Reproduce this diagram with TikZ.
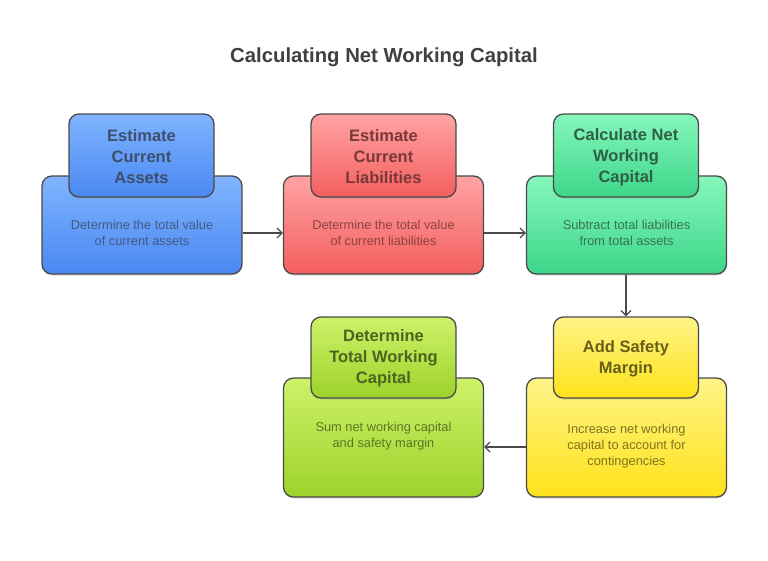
\documentclass[tikz,border=0pt]{standalone}
\usepackage{fontspec}
\setmainfont{Liberation Sans}
\usetikzlibrary{arrows.meta,shadows}
\definecolor{edge}{HTML}{4A4A4A}
\definecolor{ttl}{HTML}{404040}
\definecolor{bT}{HTML}{80B4FF}\definecolor{bB}{HTML}{4A88F2}\definecolor{bX}{HTML}{3E4F6C}
\definecolor{rT}{HTML}{FFA3A3}\definecolor{rB}{HTML}{F45E5E}\definecolor{rX}{HTML}{7A3838}
\definecolor{gT}{HTML}{86F7BC}\definecolor{gB}{HTML}{3DD68A}\definecolor{gX}{HTML}{2E5F45}
\definecolor{lT}{HTML}{CDF26A}\definecolor{lB}{HTML}{9DD22A}\definecolor{lX}{HTML}{4B6420}
\definecolor{yT}{HTML}{FFF488}\definecolor{yB}{HTML}{FFE21A}\definecolor{yX}{HTML}{66601A}
\tikzset{
  boxbase/.style={draw=edge, line width=1.3pt, rounded corners=10pt, inner sep=0pt,
    drop shadow={shadow xshift=0pt, shadow yshift=-1.5pt, opacity=0.25}},
  bigbox/.style={boxbase, minimum width=200pt, minimum height=98pt},
  bigboxtall/.style={boxbase, minimum width=200pt, minimum height=119pt},
  smallbox/.style={boxbase, minimum width=145pt, minimum height=83pt},
  smallboxlow/.style={boxbase, minimum width=145pt, minimum height=81pt},
  blue/.style={top color=bT, bottom color=bB},
  red/.style={top color=rT, bottom color=rB},
  green/.style={top color=gT, bottom color=gB},
  lime/.style={top color=lT, bottom color=lB},
  yellow/.style={top color=yT, bottom color=yB},
  headtxt/.style={font=\bfseries\fontsize{16.5}{21}\selectfont, align=center},
  bodytxt/.style={font=\fontsize{12.8}{16}\selectfont, align=center, opacity=0.85},
  conn/.style={draw=edge, line width=1.2pt, -{Straight Barb[length=5pt,width=10pt]}}
}
\begin{document}
\begin{tikzpicture}[x=1pt,y=-1pt]
\useasboundingbox (0,0) rectangle (768,560);
\fill[white] (0,0) rectangle (768,560);
\node[font=\bfseries\fontsize{20.3}{24}\selectfont, text=ttl] (title) at (384,57) {Calculating Net Working Capital};

% box 1
\node[bigbox, blue] (b1) at (142,225) {};
\node[smallbox, blue] (s1) at (141.5,155.5) {};
\node[headtxt, text=bX] (h1) at (141.5,157) {Estimate\\Current\\Assets};
\node[bodytxt, text=bX] (t1) at (142,233) {Determine the total value\\of current assets};

% box 2
\node[bigbox, red] (b2) at (383.5,225) {};
\node[smallbox, red] (s2) at (383.5,155.5) {};
\node[headtxt, text=rX] (h2) at (383.5,157) {Estimate\\Current\\Liabilities};
\node[bodytxt, text=rX] (t2) at (383.5,233) {Determine the total value\\of current liabilities};

% box 3
\node[bigbox, green] (b3) at (626.5,225) {};
\node[smallbox, green] (s3) at (626,155.5) {};
\node[headtxt, text=gX] (h3) at (626,157) {Calculate Net\\Working\\Capital};
\node[bodytxt, text=gX] (t3) at (626.5,233) {Subtract total liabilities\\from total assets};

% box 5 (yellow)
\node[bigboxtall, yellow] (b5) at (626.5,437.5) {};
\node[smallboxlow, yellow] (s5) at (626,357.5) {};
\node[headtxt, text=yX] (h5) at (626,358.5) {Add Safety\\Margin};
\node[bodytxt, text=yX] (t5) at (626.5,446) {Increase net working\\capital to account for\\contingencies};

% box 4 (lime)
\node[bigboxtall, lime] (b4) at (383.5,437.5) {};
\node[smallboxlow, lime] (s4) at (383.5,357.5) {};
\node[headtxt, text=lX] (h4) at (383.5,358.5) {Determine\\Total Working\\Capital};
\node[bodytxt, text=lX] (t4) at (383.5,436) {Sum net working capital\\and safety margin};

% connectors
\draw[conn] (b1.east |- 0,233) -- (b2.west |- 0,233);
\draw[conn] (b2.east |- 0,233) -- (b3.west |- 0,233);
\draw[conn] (b3.south -| 626,0) -- (s5.north -| 626,0);
\draw[conn] (b5.west |- 0,447) -- (b4.east |- 0,447);
\end{tikzpicture}
\end{document}
